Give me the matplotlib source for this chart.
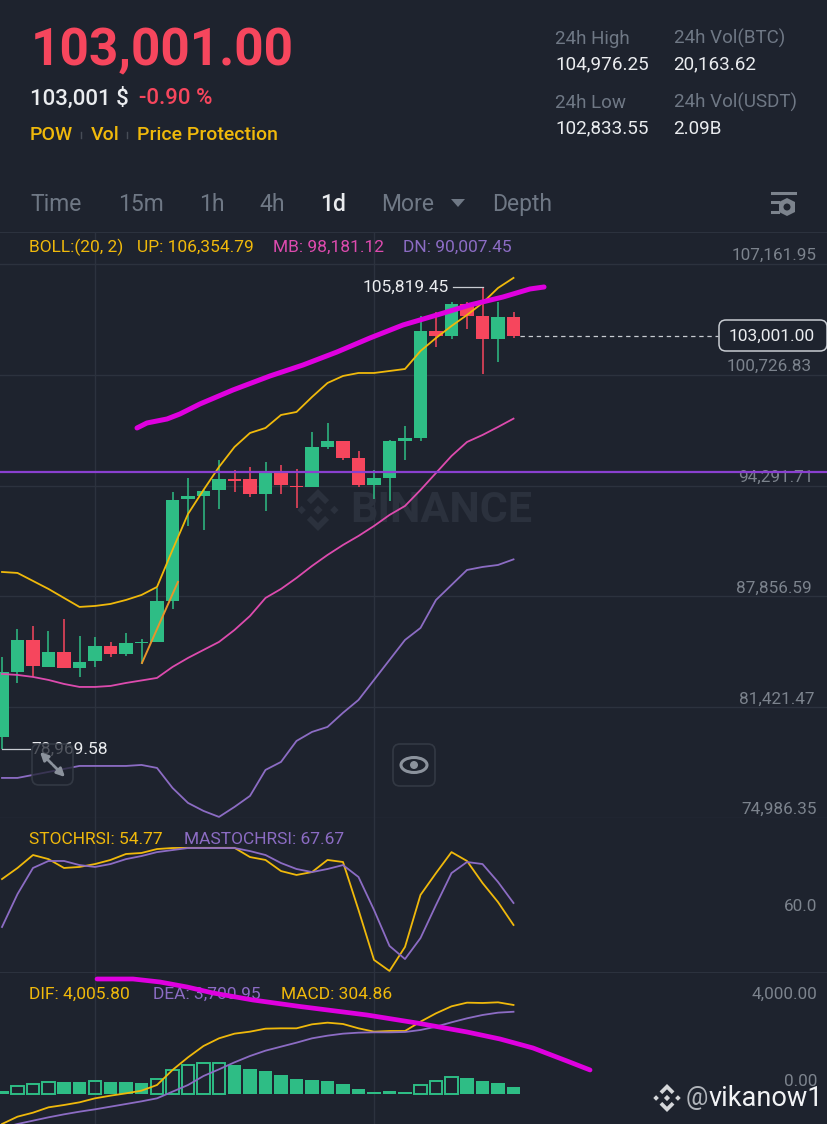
import matplotlib
matplotlib.use('Agg')
import matplotlib.pyplot as plt
from matplotlib.patches import FancyBboxPatch, Polygon, Ellipse, Circle
from matplotlib.transforms import blended_transform_factory

plt.rcParams['font.family'] = ['Roboto', 'DejaVu Sans']

# daily candles
opens = [79694, 83486, 85327, 83759, 84630, 83700, 84108, 84979, 84514, 85153, 85211, 87592,
         93515, 93690, 94038, 94676, 94676, 93805, 95025, 94270, 94212, 96535, 96883, 95896,
         94328, 94735, 96883, 97057, 103271, 102980, 104839, 104142, 102806, 104084]
highs = [84340, 85966, 86140, 85850, 86547, 85560, 85501, 85211, 85734, 85385, 88347, 93922,
         94735, 94038, 95780, 95199, 95373, 95664, 95489, 95257, 97406, 97928, 96883, 96302,
         95199, 96941, 97754, 104142, 104374, 104955, 104955, 105819.45, 104955, 104374]
lows = [78969.58, 82830, 83179, 83730, 83700, 83179, 83759, 84340, 84398, 83933, 85211, 87127,
        91947, 91715, 92934, 93922, 93631, 92818, 93805, 92992, 94183, 96419, 95780, 94212,
        93515, 93399, 95780, 96883, 102342, 102806, 103387, 100774, 101471, 102864]
closes = [83486, 85327, 83817, 84630, 83700, 84050, 84979, 84514, 85153, 85228, 87592, 93457,
          93707, 93980, 94676, 94560, 93805, 95025, 94328, 94212, 96535, 96883, 95896, 94328,
          94735, 96883, 97057, 103271, 102980, 104839, 104142, 102806, 104084, 103001]

# bollinger bands
boll_up = [89276, 89218, 88754, 88289, 87766, 87244, 87302, 87418, 87650, 87940, 88405, 90554,
           92644, 94038, 95373, 96535, 97348, 97638, 98393, 98568, 99439, 100251, 100658, 100832,
           100832, 100948, 101064, 102109, 102864, 103561, 104200, 104897, 105768, 106354.79]
boll_mb = [83353, 83295, 83179, 83004, 82772, 82598, 82598, 82656, 82830, 82975, 83121, 83759,
           84282, 84747, 85211, 85908, 86721, 87766, 88289, 88928, 89625, 90263, 90844, 91367,
           91947, 92586, 93109, 94038, 95025, 96012, 96825, 97231, 97696, 98181.12]
boll_dn = [77314, 77314, 77488, 77662, 77836, 78010, 78010, 78010, 78010, 78068, 77894, 76733,
           75862, 75397, 75049, 75630, 76270, 77778, 78243, 79462, 79985, 80276, 81096, 81843,
           83004, 84166, 85327, 86024, 87650, 88521, 89392, 89566, 89682, 90007.45]

stoch_rsi = [81.7, 88.2, 95.8, 93.4, 88.2, 88.8, 90.5, 92.9, 96.4, 97.0, 99.3, 99.9, 100, 100, 100, 100, 94.6,
             92.9, 86.4, 84.1, 85.8, 92.9, 91.7, 63.6, 34.3, 27.8, 41.9, 72.4, 85.2, 97.5, 92.3, 79.4, 68.2, 54.77]
ma_stoch = [53.6, 72.9, 88.2, 92.3, 92.3, 89.9, 88.8, 90.5, 93.4, 95.2, 97.5, 98.7, 99.9, 99.9, 99.9, 99.9, 98.1,
            95.8, 91.1, 87.6, 85.8, 87.6, 89.9, 82.9, 63.6, 42.5, 34.8, 47.1, 66.5, 85.2, 91.7, 90.5, 80.0, 67.67]

dif = [-1350, -1020, -840, -600, -495, -375, -195, -75, 30, 150, 405, 1080, 1650, 2160, 2505, 2715, 2805,
       2940, 2955, 2955, 3135, 3210, 3150, 2955, 2805, 2835, 2835, 3255, 3630, 3945, 4110, 4095, 4125, 4005.8]
dea = [-1530, -1350, -1200, -1050, -915, -795, -690, -570, -450, -330, -195, 105, 405, 810, 1110, 1425, 1710,
       1950, 2130, 2310, 2505, 2625, 2715, 2760, 2775, 2775, 2790, 2880, 3030, 3225, 3405, 3555, 3660, 3700.95]
macd_hist = [150, 360, 435, 540, 525, 525, 570, 525, 525, 510, 660, 1080, 1290, 1395, 1410, 1305, 1125,
             1020, 840, 660, 645, 585, 450, 210, 90, 135, 90, 420, 585, 765, 735, 570, 480, 304.86]
hist_hollow = [1, 2, 3, 6, 10, 11, 12, 13, 14, 27, 28, 29]

price_ticks = [107161.95, 100726.83, 94291.71, 87856.59, 81421.47, 74986.35]
price_labels = ['107,161.95', '100,726.83', '94,291.71', '87,856.59', '81,421.47', '74,986.35']
price_label_right = [817, 812, 814, 812, 815, 817]

# hand drawn lines on top of the screenshot (candle index, value)
marker_top_x = [8.71, 9.35, 10.65, 11.48, 12.77, 14.9, 17.29, 19.42, 21.61, 23.74, 25.87, 28.06, 30.19, 32.32, 34.06, 34.97]
marker_top_y = [97638, 97928, 98161, 98451, 99032, 99845, 100658, 101296, 102051, 102864, 103619, 104200, 104781, 105245, 105710, 105826]
marker_low_x = [6.13, 8.45, 10.19, 11.94, 13.61, 16.19, 19.23, 23.55, 26.77, 30, 32.13, 34.26, 36.45, 37.94]
marker_low_y = [5175, 5175, 5040, 4815, 4545, 4230, 3937, 3555, 3195, 2790, 2475, 2070, 1485, 1080]
orange_x = [9.03, 11.35]
orange_y = [83992, 88695]
support_level = 95054

BG = '#1e232e'
GRID = '#2c323e'
GREEN = '#2ebd85'
RED = '#f6465d'
YELLOW = '#f0b90b'
PURPLE = '#8c6cc4'
PINK = '#dd4bae'
MAGENTA = '#df00df'
GRAY = '#6f7885'
AXIS_GRAY = '#7c838d'
WHITE = '#eaecef'

W, H = 828, 1124
fig = plt.figure(figsize=(W / 100, H / 100), dpi=100, facecolor=BG)


def pane(top, bottom):
    ax = fig.add_axes([0, 1 - bottom / H, 1, (bottom - top) / H])
    ax.patch.set_visible(False)
    ax.set_xlim(-0.129, 53.29)
    ax.set_xticks([6, 24])
    ax.tick_params(length=0, labelbottom=False, labelleft=False)
    ax.grid(axis='x', color=GRID, lw=1)
    for s in ax.spines.values():
        s.set_visible(False)
    ax.set_axisbelow(True)
    ax.set_zorder(1)
    return ax


# pixel layers for the app furniture
ax_bg = fig.add_axes([0, 0, 1, 1], zorder=0)
ax_ui = fig.add_axes([0, 0, 1, 1], zorder=5)
for a in (ax_bg, ax_ui):
    a.set_xlim(0, W)
    a.set_ylim(H, 0)
    a.axis('off')


def label(ax, x, y, s, color, size, ha='left', weight='normal', zorder=3):
    ax.text(x, y + 1.5, s, color=color, fontsize=size, ha=ha, va='center', fontweight=weight,
            transform=ax_ui.transData, zorder=zorder)


def logo(ax, cx, cy, r, color):
    top = [(0, 1), (0.53, 0.47), (0.34, 0.28), (0, 0.62), (-0.34, 0.28), (-0.53, 0.47)]
    ax.add_patch(Polygon([(cx + a * r, cy - b * r) for a, b in top], color=color, lw=0))
    ax.add_patch(Polygon([(cx + a * r, cy + b * r) for a, b in top], color=color, lw=0))
    for dx in (-0.78, 0, 0.78):
        size = 0.2 if dx else 0.22
        ax.add_patch(Polygon([(cx + dx * r + size * r, cy), (cx + dx * r, cy - size * r),
                              (cx + dx * r - size * r, cy), (cx + dx * r, cy + size * r)], color=color, lw=0))


# watermark sits behind the candles
logo(ax_bg, 318, 510, 21, '#2b313d')
ax_bg.text(350, 510, 'BINANCE', color='#2b313d', fontsize=31, fontweight='bold', va='center')

# ---- price pane
ax = pane(232, 818)
ax.set_ylim(74986.35, 109020)
ax.set_yticks(price_ticks)
ax.grid(axis='y', color=GRID, lw=1)
ax.spines['top'].set_visible(True)
ax.spines['top'].set_color(GRID)
xs = list(range(len(opens)))
colors = [GREEN if c >= o else RED for o, c in zip(opens, closes)]
ax.vlines(xs, lows, highs, colors=colors, lw=1.1, zorder=2)
ax.bar(xs, [max(abs(c - o), 40) for o, c in zip(opens, closes)], bottom=[min(o, c) for o, c in zip(opens, closes)],
       width=0.88, color=colors, zorder=2)
ax.plot(xs, boll_up, color=YELLOW, lw=1.3, zorder=3)
ax.plot(xs, boll_mb, color=PINK, lw=1.3, zorder=3)
ax.plot(xs, boll_dn, color=PURPLE, lw=1.3, zorder=3)
ax.plot(orange_x, orange_y, color='#e8942a', lw=1.4, zorder=3)
ax.axhline(support_level, color='#8a40d0', lw=1.6, zorder=4)
ax.plot(marker_top_x, marker_top_y, color=MAGENTA, lw=3.6, solid_capstyle='round', zorder=5)
for val, s, r in zip(price_ticks, price_labels, price_label_right):
    ax.annotate(s, (r / W, val), xycoords=blended_transform_factory(ax.transAxes, ax.transData),
                xytext=(0, 6), textcoords='offset points', ha='right', va='center', fontsize=12.3, color=AXIS_GRAY, zorder=3)
# last price, highest and lowest
ax.plot([33.4, 46.2], [closes[-1], closes[-1]], color='#c8ccd2', lw=0.9, ls=(0, (3.5, 3)), zorder=3)
ax.plot([31, 29.1], [highs[31], highs[31]], color='#c8ccd2', lw=0.9, zorder=3)
ax.text(28.8, highs[31], '105,819.45', color=WHITE, fontsize=12.5, ha='right', va='center')
ax.plot([0, 1.8], [lows[0], lows[0]], color='#c8ccd2', lw=0.9, zorder=3)
ax.text(1.9, lows[0], '78,969.58', color=WHITE, fontsize=12.5, ha='left', va='center')

# ---- stoch rsi pane
ax2 = pane(818, 971.5)
ax2.set_ylim(27.5, 117.5)
ax2.plot(xs, stoch_rsi, color=YELLOW, lw=1.3)
ax2.plot(xs, ma_stoch, color=PURPLE, lw=1.3)
label(ax2, 29, 838, 'STOCHRSI: 54.77', YELLOW, 12.5)
label(ax2, 184, 838, 'MASTOCHRSI: 67.67', PURPLE, 12.5)
label(ax2, 817, 905, '60.0', AXIS_GRAY, 12.3, ha='right')

# ---- macd pane
ax3 = pane(971.5, 1124)
ax3.set_ylim(-1350, 5512)
ax3.spines['top'].set_visible(True)
ax3.spines['top'].set_color(GRID)
for i, v in enumerate(macd_hist):
    if i in hist_hollow:
        ax3.bar(i, v, width=0.82, facecolor='none', edgecolor=GREEN, lw=1.4, zorder=2)
    else:
        ax3.bar(i, v, width=0.88, color=GREEN, zorder=2)
ax3.plot(xs, dif, color=YELLOW, lw=1.3, zorder=3)
ax3.plot(xs, dea, color=PURPLE, lw=1.3, zorder=3)
label(ax3, 29, 993, 'DIF: 4,005.80', YELLOW, 12.5)
label(ax3, 153, 993, 'DEA: 3,700.95', PURPLE, 12.5)
label(ax3, 281, 993, 'MACD: 304.86', YELLOW, 12.5)
label(ax3, 817, 993, '4,000.00', AXIS_GRAY, 12.3, ha='right')
label(ax3, 817, 1080, '0.00', AXIS_GRAY, 12.3, ha='right')
ax3.plot(marker_low_x, marker_low_y, color=MAGENTA, lw=3.4, solid_capstyle='round', zorder=5)

# ---- header
label(ax_ui, 31, 50, '103,001.00', RED, 37, weight='bold')
label(ax_ui, 30, 97, '103,001 $', WHITE, 16, weight='medium')
label(ax_ui, 139, 97, '-0.90 %', RED, 16, weight='medium')
label(ax_ui, 30, 133, 'POW', YELLOW, 14, weight='medium')
label(ax_ui, 91, 133, 'Vol', YELLOW, 14, weight='medium')
label(ax_ui, 137, 133, 'Price Protection', YELLOW, 14, weight='medium')
ax_ui.plot([81, 81], [132, 138], color='#474d57', lw=1)
ax_ui.plot([127, 127], [132, 138], color='#474d57', lw=1)

label(ax_ui, 555, 37, '24h High', GRAY, 13.5)
label(ax_ui, 674, 37, '24h Vol(BTC)', GRAY, 13.5)
label(ax_ui, 555, 63, '104,976.25', WHITE, 13.6)
label(ax_ui, 673, 63, '20,163.62', WHITE, 13.6)
label(ax_ui, 555, 101, '24h Low', GRAY, 13.5)
label(ax_ui, 674, 101, '24h Vol(USDT)', GRAY, 13.5)
label(ax_ui, 555, 127, '102,833.55', WHITE, 13.6)
label(ax_ui, 673, 127, '2.09B', WHITE, 13.6)

tab_x = [30, 118, 199, 259, 320, 381, 492]
tab_names = ['Time', '15m', '1h', '4h', '1d', 'More', 'Depth']
for x, s in zip(tab_x, tab_names):
    label(ax_ui, x, 203, s, WHITE if s == '1d' else GRAY, 16.5, weight='medium' if s == '1d' else 'normal')
ax_ui.add_patch(Polygon([(451, 199), (465, 199), (458, 207)], color=GRAY, lw=0))

# settings icon
ax_ui.plot([772, 795], [193, 193], color=AXIS_GRAY, lw=2.2)
ax_ui.plot([772, 778], [202, 202], color=AXIS_GRAY, lw=2.2)
ax_ui.plot([772, 778], [212, 212], color=AXIS_GRAY, lw=2.2)
ax_ui.add_patch(Polygon([(787, 198), (795, 202), (795, 212), (787, 216), (779, 212), (779, 202)], color=AXIS_GRAY, lw=0))
ax_ui.add_patch(Circle((787, 207), 3.5, color=BG, lw=0))

label(ax_ui, 29, 246, 'BOLL:(20, 2)', YELLOW, 12.5)
label(ax_ui, 137, 246, 'UP: 106,354.79', YELLOW, 12.5)
label(ax_ui, 273, 246, 'MB: 98,181.12', PINK, 12.5)
label(ax_ui, 403, 246, 'DN: 90,007.45', PURPLE, 12.5)

# last price box
ax_ui.add_patch(FancyBboxPatch((719, 320), 108, 31, boxstyle='round,pad=0,rounding_size=7',
                               facecolor=BG, edgecolor='#c8ccd2', lw=1.1, zorder=3))
label(ax_ui, 772, 335, '103,001.00', WHITE, 12.5, ha='center', zorder=4)

# expand and eye buttons
ax_ui.add_patch(FancyBboxPatch((32, 744), 41, 41, boxstyle='round,pad=0,rounding_size=7',
                               facecolor=BG, edgecolor='#3a404b', lw=1.2, alpha=0.75))
ax_ui.annotate('', xy=(40, 752), xytext=(52, 764), arrowprops=dict(arrowstyle='-|>', color='#8b929c', lw=2, mutation_scale=12, shrinkA=0, shrinkB=0))
ax_ui.annotate('', xy=(65, 777), xytext=(53, 765), arrowprops=dict(arrowstyle='-|>', color='#8b929c', lw=2, mutation_scale=12, shrinkA=0, shrinkB=0))
ax_ui.add_patch(FancyBboxPatch((393, 744), 42, 42, boxstyle='round,pad=0,rounding_size=7',
                               facecolor=BG, edgecolor='#3a404b', lw=1.2, alpha=0.75))
ax_ui.add_patch(Ellipse((414, 765), 26, 15, facecolor='none', edgecolor='#8b929c', lw=2.2))
ax_ui.add_patch(Circle((414, 765), 4, color='#8b929c', lw=0))

# watermark of the poster
logo(ax_ui, 667, 1098, 14, '#d5d7da')
label(ax_ui, 686, 1097, '@', '#b0b4ba', 18)
label(ax_ui, 709, 1097, 'vikanow1', '#f2f3f5', 19.5)

fig.savefig('out.png', dpi=100, facecolor=BG)
